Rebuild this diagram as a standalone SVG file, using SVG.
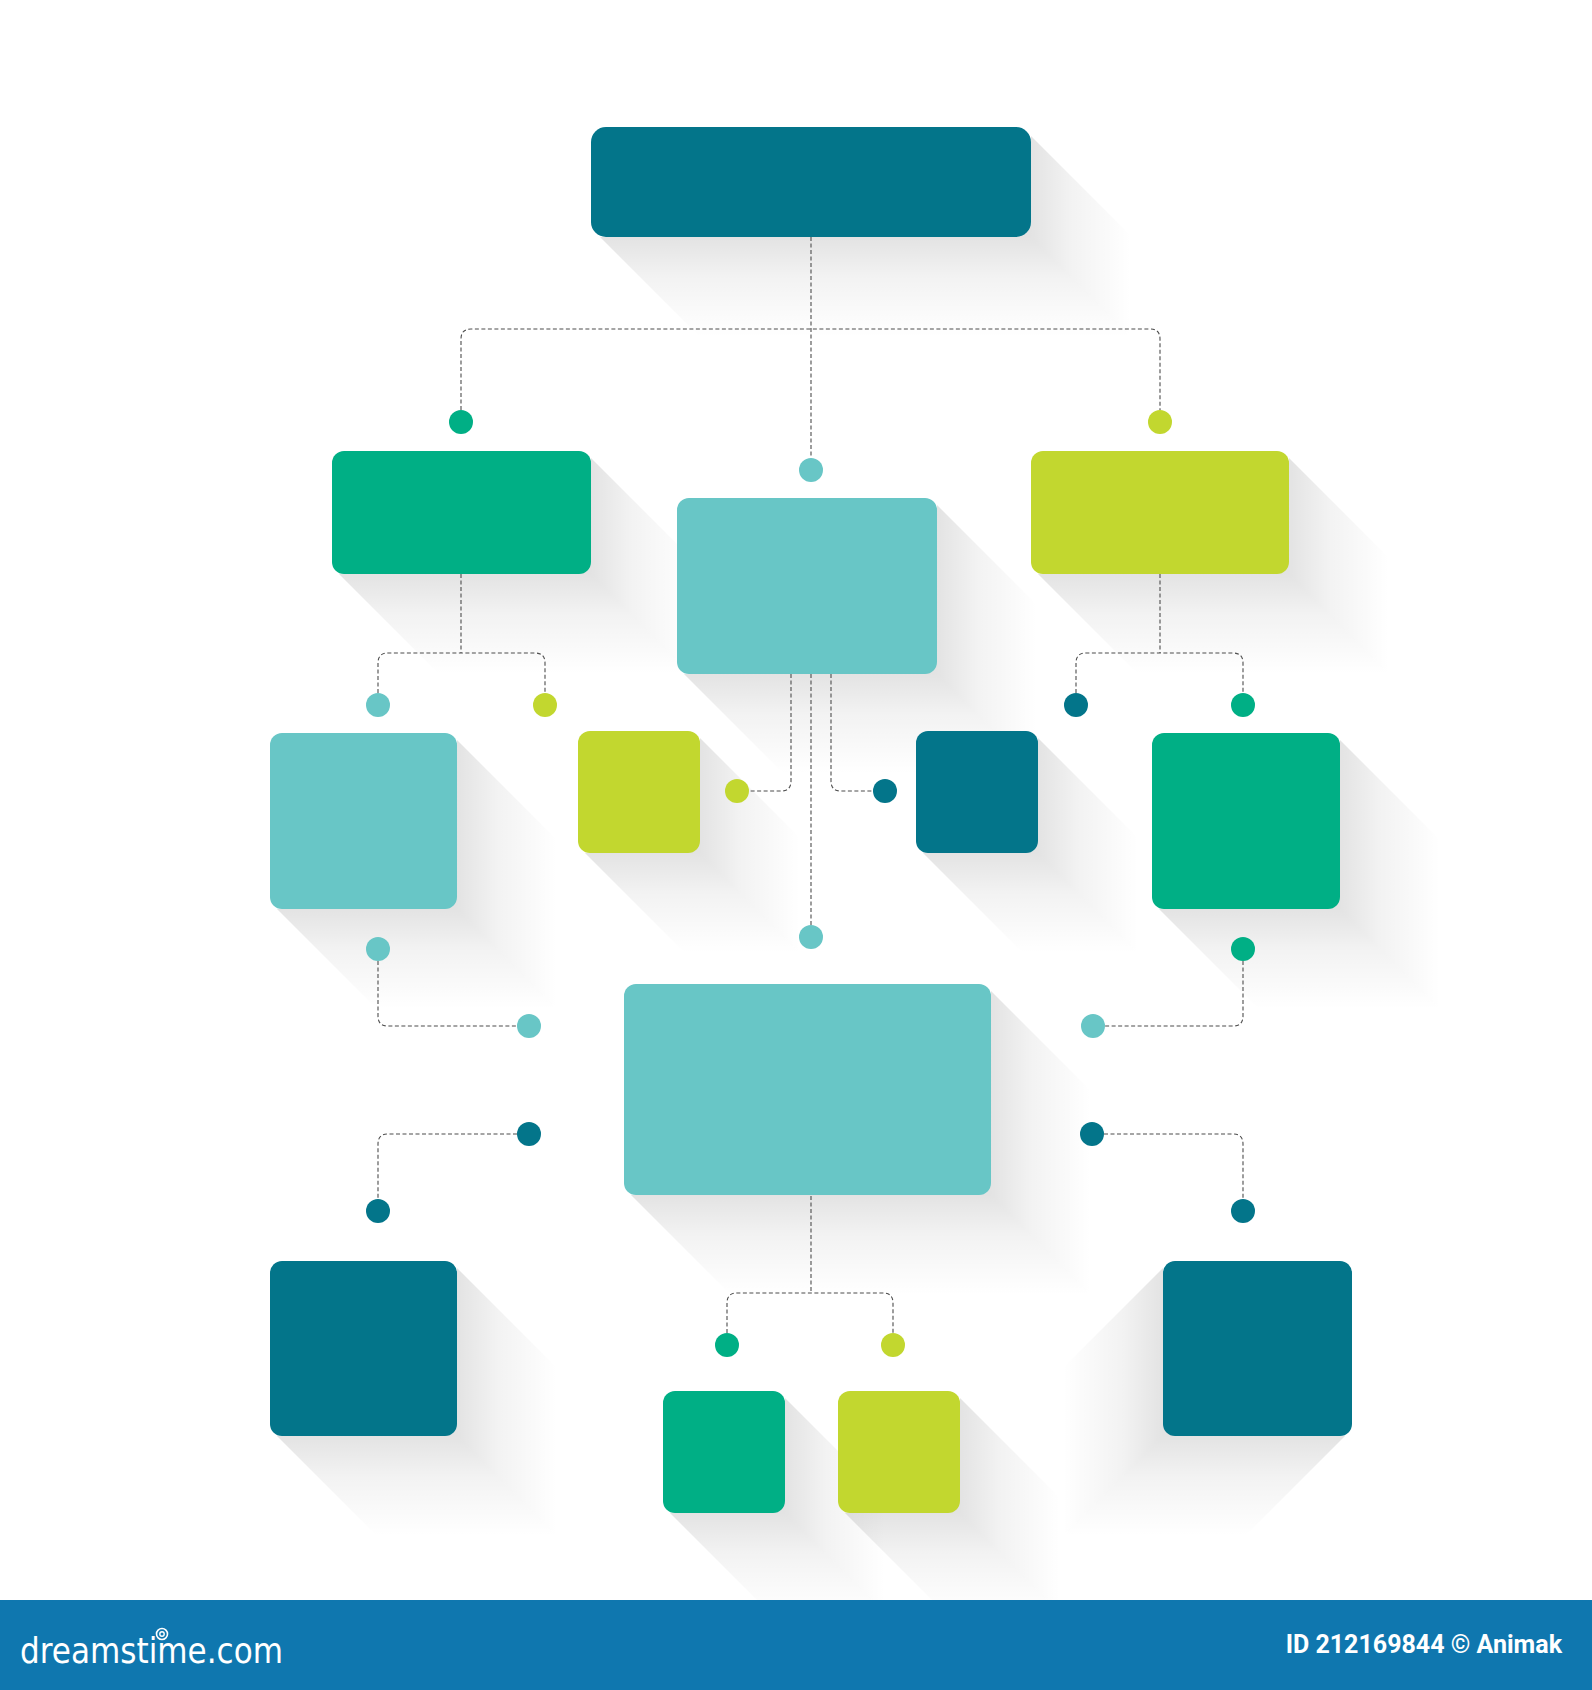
<svg xmlns="http://www.w3.org/2000/svg" width="1592" height="1690" viewBox="0 0 1592 1690">
  <defs>
    <linearGradient id="shR" x1="0" y1="0" x2="1" y2="0">
      <stop offset="0" stop-color="#000" stop-opacity="0.11"/>
      <stop offset="0.4" stop-color="#000" stop-opacity="0.05"/>
      <stop offset="1" stop-color="#000" stop-opacity="0"/>
    </linearGradient>
    <linearGradient id="shB" x1="0" y1="0" x2="0" y2="1">
      <stop offset="0" stop-color="#000" stop-opacity="0.11"/>
      <stop offset="0.4" stop-color="#000" stop-opacity="0.05"/>
      <stop offset="1" stop-color="#000" stop-opacity="0"/>
    </linearGradient>
    <linearGradient id="shL" x1="1" y1="0" x2="0" y2="0">
      <stop offset="0" stop-color="#000" stop-opacity="0.11"/>
      <stop offset="0.4" stop-color="#000" stop-opacity="0.05"/>
      <stop offset="1" stop-color="#000" stop-opacity="0"/>
    </linearGradient>
  </defs>
  <style>
    .dark { fill: #03758a; }
    .green { fill: #00af85; }
    .cyan { fill: #68c6c6; }
    .lime { fill: #c2d72f; }
    .sr { fill: url(#shR); }
    .sb { fill: url(#shB); }
    .sl { fill: url(#shL); }
    .sc { fill: #000; fill-opacity: 0.11; }
    .conn { fill: none; stroke: #4d4d4d; stroke-width: 1.1; stroke-dasharray: 4 2.5; }
    .logo { font-family: "DejaVu Sans", "Liberation Sans", sans-serif; fill: #fff; }
    .credit { font-family: Roboto, "Liberation Sans", sans-serif; font-weight: bold; fill: #fff; }
  </style>

  <rect x="0" y="0" width="1592" height="1690" fill="#ffffff"/>

  <g id="node-top">
    <polygon class="sr" points="1031,136 1131,236 1131,337 1031,237"/>
    <polygon class="sb" points="600,237 1031,237 1131,337 700,337"/>
    <rect class="sc" x="1016" y="222" width="15" height="15"/>
    <rect class="dark" x="591" y="127" width="440" height="110" rx="15"/>
  </g>
  <g id="node-left">
    <polygon class="sr" points="591,458 691,558 691,674 591,574"/>
    <polygon class="sb" points="339,574 591,574 691,674 439,674"/>
    <rect class="sc" x="579" y="562" width="12" height="12"/>
    <rect class="green" x="332" y="451" width="259" height="123" rx="12"/>
  </g>
  <g id="node-center">
    <polygon class="sr" points="937,505 1037,605 1037,774 937,674"/>
    <polygon class="sb" points="684,674 937,674 1037,774 784,774"/>
    <rect class="sc" x="925" y="662" width="12" height="12"/>
    <rect class="cyan" x="677" y="498" width="260" height="176" rx="12"/>
  </g>
  <g id="node-right">
    <polygon class="sr" points="1289,458 1389,558 1389,674 1289,574"/>
    <polygon class="sb" points="1038,574 1289,574 1389,674 1138,674"/>
    <rect class="sc" x="1277" y="562" width="12" height="12"/>
    <rect class="lime" x="1031" y="451" width="258" height="123" rx="12"/>
  </g>
  <g id="node-left-a">
    <polygon class="sr" points="457,740 557,840 557,1009 457,909"/>
    <polygon class="sb" points="277,909 457,909 557,1009 377,1009"/>
    <rect class="sc" x="445" y="897" width="12" height="12"/>
    <rect class="cyan" x="270" y="733" width="187" height="176" rx="12"/>
  </g>
  <g id="node-left-b">
    <polygon class="sr" points="700,738 800,838 800,953 700,853"/>
    <polygon class="sb" points="585,853 700,853 800,953 685,953"/>
    <rect class="sc" x="688" y="841" width="12" height="12"/>
    <rect class="lime" x="578" y="731" width="122" height="122" rx="12"/>
  </g>
  <g id="node-right-a">
    <polygon class="sr" points="1038,738 1138,838 1138,953 1038,853"/>
    <polygon class="sb" points="923,853 1038,853 1138,953 1023,953"/>
    <rect class="sc" x="1026" y="841" width="12" height="12"/>
    <rect class="dark" x="916" y="731" width="122" height="122" rx="12"/>
  </g>
  <g id="node-right-b">
    <polygon class="sr" points="1340,740 1440,840 1440,1009 1340,909"/>
    <polygon class="sb" points="1159,909 1340,909 1440,1009 1259,1009"/>
    <rect class="sc" x="1328" y="897" width="12" height="12"/>
    <rect class="green" x="1152" y="733" width="188" height="176" rx="12"/>
  </g>
  <g id="node-hub">
    <polygon class="sr" points="991,991 1091,1091 1091,1295 991,1195"/>
    <polygon class="sb" points="631,1195 991,1195 1091,1295 731,1295"/>
    <rect class="sc" x="979" y="1183" width="12" height="12"/>
    <rect class="cyan" x="624" y="984" width="367" height="211" rx="12"/>
  </g>
  <g id="node-bottom-left">
    <polygon class="sr" points="457,1268 557,1368 557,1536 457,1436"/>
    <polygon class="sb" points="277,1436 457,1436 557,1536 377,1536"/>
    <rect class="sc" x="445" y="1424" width="12" height="12"/>
    <rect class="dark" x="270" y="1261" width="187" height="175" rx="12"/>
  </g>
  <g id="node-bottom-a">
    <polygon class="sr" points="785,1398 885,1498 885,1613 785,1513"/>
    <polygon class="sb" points="670,1513 785,1513 885,1613 770,1613"/>
    <rect class="sc" x="773" y="1501" width="12" height="12"/>
    <rect class="green" x="663" y="1391" width="122" height="122" rx="12"/>
  </g>
  <g id="node-bottom-b">
    <polygon class="sr" points="960,1398 1060,1498 1060,1613 960,1513"/>
    <polygon class="sb" points="845,1513 960,1513 1060,1613 945,1613"/>
    <rect class="sc" x="948" y="1501" width="12" height="12"/>
    <rect class="lime" x="838" y="1391" width="122" height="122" rx="12"/>
  </g>
  <g id="node-bottom-right">
    <polygon class="sl" points="1163,1268 1063,1368 1063,1536 1163,1436"/>
    <polygon class="sb" points="1345,1436 1163,1436 1063,1536 1245,1536"/>
    <rect class="sc" x="1163" y="1424" width="12" height="12"/>
    <rect class="dark" x="1163" y="1261" width="189" height="175" rx="12"/>
  </g>

  <g id="connectors">
    <path class="conn" d="M811,237 V458"/>
    <path class="conn" d="M461,410 V339 Q461,329 471,329 H1150 Q1160,329 1160,339 V410"/>
    <path class="conn" d="M461,574 V653"/>
    <path class="conn" d="M378,693 V663 Q378,653 388,653 H535 Q545,653 545,663 V693"/>
    <path class="conn" d="M1160,574 V653"/>
    <path class="conn" d="M1076,693 V663 Q1076,653 1086,653 H1233 Q1243,653 1243,663 V693"/>
    <path class="conn" d="M791,674 V781 Q791,791 781,791 H749"/>
    <path class="conn" d="M811,674 V925"/>
    <path class="conn" d="M831,674 V781 Q831,791 841,791 H873"/>
    <path class="conn" d="M378,961 V1016 Q378,1026 388,1026 H517"/>
    <path class="conn" d="M1243,961 V1016 Q1243,1026 1233,1026 H1105"/>
    <path class="conn" d="M517,1134 H388 Q378,1134 378,1144 V1199"/>
    <path class="conn" d="M1104,1134 H1233 Q1243,1134 1243,1144 V1199"/>
    <path class="conn" d="M811,1196 V1293"/>
    <path class="conn" d="M727,1333 V1303 Q727,1293 737,1293 H883 Q893,1293 893,1303 V1333"/>
  </g>

  <g id="ports">
    <circle class="green" cx="461" cy="422" r="12"/>
    <circle class="cyan" cx="811" cy="470" r="12"/>
    <circle class="lime" cx="1160" cy="422" r="12"/>
    <circle class="cyan" cx="378" cy="705" r="12"/>
    <circle class="lime" cx="545" cy="705" r="12"/>
    <circle class="dark" cx="1076" cy="705" r="12"/>
    <circle class="green" cx="1243" cy="705" r="12"/>
    <circle class="lime" cx="737" cy="791" r="12"/>
    <circle class="dark" cx="885" cy="791" r="12"/>
    <circle class="cyan" cx="811" cy="937" r="12"/>
    <circle class="cyan" cx="378" cy="949" r="12"/>
    <circle class="cyan" cx="529" cy="1026" r="12"/>
    <circle class="green" cx="1243" cy="949" r="12"/>
    <circle class="cyan" cx="1093" cy="1026" r="12"/>
    <circle class="dark" cx="529" cy="1134" r="12"/>
    <circle class="dark" cx="378" cy="1211" r="12"/>
    <circle class="dark" cx="1092" cy="1134" r="12"/>
    <circle class="dark" cx="1243" cy="1211" r="12"/>
    <circle class="green" cx="727" cy="1345" r="12"/>
    <circle class="lime" cx="893" cy="1345" r="12"/>
  </g>

  <g id="banner">
    <rect x="0" y="1600" width="1592" height="90" fill="#0f77af"/>
    <circle cx="162" cy="1634" r="5.5" fill="none" stroke="#fff" stroke-width="1.6"/>
    <circle cx="162" cy="1634" r="2.2" fill="none" stroke="#fff" stroke-width="1.4"/>
    <text class="logo" x="20" y="1663" font-size="36" textLength="263" lengthAdjust="spacingAndGlyphs">dreamstime.com</text>
    <text class="credit" x="1562" y="1653" font-size="25" text-anchor="end">ID 212169844 © Animak</text>
  </g>
</svg>
